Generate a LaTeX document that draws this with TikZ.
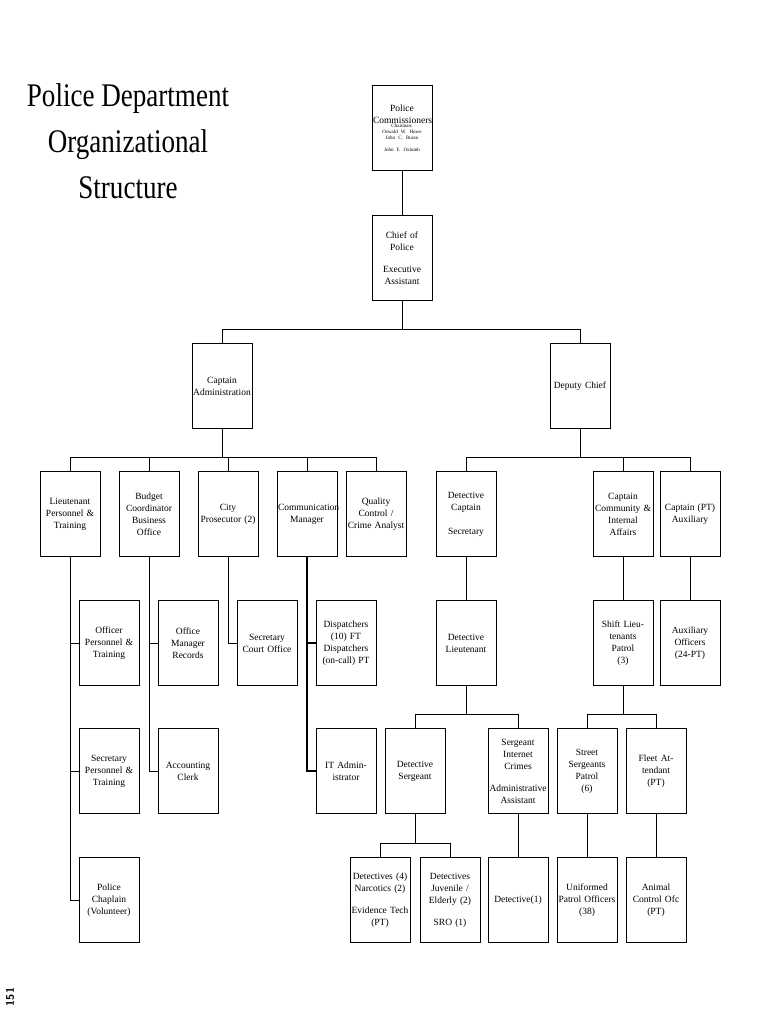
\documentclass[tikz,border=0pt]{standalone}
\usepackage{fontspec}
\setmainfont{Liberation Serif}
\begin{document}
\begin{tikzpicture}[x=1pt,y=-1pt,
  bx/.style={draw,line width=0.9pt,minimum width=59pt,minimum height=85pt,inner sep=1pt,text width=58pt,align=center,font=\fontsize{9.5}{12}\selectfont},
  ln/.style={line width=0.9pt}]
\useasboundingbox (0,0) rectangle (768,1024);
\node[align=center,font=\fontsize{33}{46}\selectfont] (title) at (128,141) {\scalebox{0.82}[1]{Police Department}\\\scalebox{0.82}[1]{Organizational}\\\scalebox{0.82}[1]{Structure}};
\node[rotate=90,font=\sffamily\bfseries\fontsize{11}{11}\selectfont] (pg) at (10,997) {151};
\node[bx] (pc) at (402,128) {Police\\Commissioners\\[-2pt]{\fontsize{5}{6}\selectfont Chairman: Oswald W. Howe\\John C. Russo\\John F. Oxlumb}};
\node[bx] (chief) at (402,258) {Chief of Police\\[10pt]Executive\\Assistant};
\node[bx] (capa) at (222,386) {Captain\\Administration};
\node[bx] (dep) at (580,386) {Deputy Chief};
\node[bx] (lt) at (70,514) {Lieutenant\\Personnel \&\\Training};
\node[bx] (bud) at (149,514) {Budget\\Coordinator\\Business Office};
\node[bx] (city) at (228,514) {City\\Prosecutor (2)};
\node[bx] (comm) at (307,514) {Communication\\Manager};
\node[bx] (qc) at (376,514) {Quality Control /\\Crime Analyst};
\node[bx] (dcap) at (466,514) {Detective Captain\\[12pt]Secretary};
\node[bx] (ccap) at (623,514) {Captain\\Community \&\\Internal\\Affairs};
\node[bx] (pcap) at (690,514) {Captain (PT)\\Auxiliary};
\node[bx] (off) at (109,643) {Officer\\Personnel \&\\Training};
\node[bx] (om) at (188,643) {Office Manager\\Records};
\node[bx] (sec) at (267,643) {Secretary\\Court Office};
\node[bx] (disp) at (346,643) {Dispatchers\\(10) FT\\Dispatchers\\(on-call) PT};
\node[bx] (dlt) at (466,643) {Detective\\Lieutenant};
\node[bx] (slt) at (623,643) {Shift Lieutenants\\Patrol\\(3)};
\node[bx] (aux) at (690,643) {Auxiliary Officers\\(24-PT)};
\node[bx] (secp) at (109,771) {Secretary\\Personnel \&\\Training};
\node[bx] (acc) at (188,771) {Accounting Clerk};
\node[bx] (it) at (346,771) {IT Administrator};
\node[bx] (dsg) at (415,771) {Detective\\Sergeant};
\node[bx] (isg) at (518,771) {Sergeant\\Internet Crimes\\[10pt]Administrative\\Assistant};
\node[bx] (ssg) at (587,771) {Street Sergeants\\Patrol\\(6)};
\node[bx] (fl) at (656,771) {Fleet Attendant\\(PT)};
\node[bx] (chap) at (109,900) {Police Chaplain\\(Volunteer)};
\node[bx] (d4) at (380,900) {Detectives (4)\\Narcotics (2)\\[10pt]Evidence Tech\\(PT)};
\node[bx] (dj) at (450,900) {Detectives\\Juvenile /\\Elderly (2)\\[10pt]SRO (1)};
\node[bx] (d1) at (518,900) {Detective(1)};
\node[bx] (up) at (587,900) {Uniformed\\Patrol Officers\\(38)};
\node[bx] (ac) at (656,900) {Animal\\Control Ofc\\(PT)};
% top
\draw[ln] (pc) -- (chief);
\draw[ln] (chief.south) -- ++(0,28) coordinate (b1);
\draw[ln] (capa.north) |- (b1) -| (dep.north);
% admin
\draw[ln] (capa.south) -- ++(0,28) coordinate (b2);
\draw[ln] (lt.north) |- (b2) -| (qc.north);
\foreach \n in {bud,city,comm} \draw[ln] (\n.north) -- (\n.north |- b2);
% deputy
\draw[ln] (dep.south) -- ++(0,28) coordinate (b3);
\draw[ln] (dcap.north) |- (b3) -| (pcap.north);
\draw[ln] (ccap.north) -- (ccap.north |- b3);
% spines
\draw[ln] (lt.south) |- (chap.west);
\draw[ln] (lt.south |- off.west) -- (off.west);
\draw[ln] (lt.south |- secp.west) -- (secp.west);
\draw[ln] (bud.south) |- (acc.west);
\draw[ln] (bud.south |- om.west) -- (om.west);
\draw[ln] (city.south) |- (sec.west);
\draw[line width=1.5pt] (comm.south) |- (it.west);
\draw[line width=1.5pt] (comm.south |- disp.west) -- (disp.west);
% detective
\draw[ln] (dcap) -- (dlt);
\draw[ln] (dlt.south) -- ++(0,28) coordinate (b4);
\draw[ln] (dsg.north) |- (b4) -| (isg.north);
\draw[ln] (dsg.south) -- ++(0,29) coordinate (b5);
\draw[ln] (d4.north) |- (b5) -| (dj.north);
\draw[ln] (isg) -- (d1);
% patrol
\draw[ln] (ccap) -- (slt);
\draw[ln] (pcap) -- (aux);
\draw[ln] (slt.south) -- ++(0,28) coordinate (b6);
\draw[ln] (ssg.north) |- (b6) -| (fl.north);
\draw[ln] (ssg) -- (up);
\draw[ln] (fl) -- (ac);
\end{tikzpicture}
\end{document}
